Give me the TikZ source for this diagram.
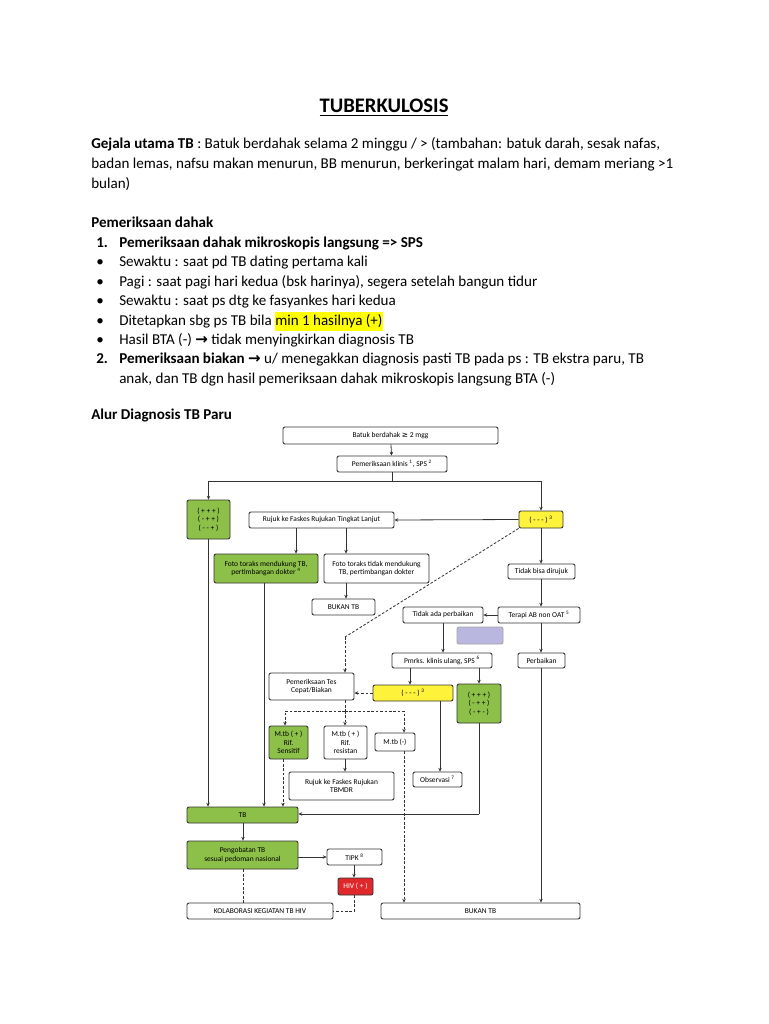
\documentclass[tikz,border=0pt]{standalone}
\usepackage{fontspec}
\setmainfont{Carlito}
\newfontfamily\symf{DejaVu Sans}
\usetikzlibrary{arrows.meta,calc}
\definecolor{tbgreen}{HTML}{8DC049}
\definecolor{tbyellow}{HTML}{FFF23A}
\definecolor{tbred}{HTML}{E0282C}
\definecolor{tbpurple}{HTML}{B9B6E0}
\definecolor{linec}{HTML}{333333}
\definecolor{hl}{HTML}{FFFF00}
\newcommand\fc{\fontsize{5.6}{6.4}\selectfont}
\newcommand\ra{{\symf\bfseries →}}
% box from corner (x1,y1) to (x2,y2) in pixel units
\newcommand\nb[7]{\node[#1, minimum width={(#5-#3)*0.75pt}, minimum height={(#6-#4)*0.75pt}] (#2) at ({(#3+#5)/2},{(#4+#6)/2}) {#7};}
\begin{document}
\begin{tikzpicture}[x=0.75pt,y=-0.75pt,
  txt/.style={anchor=base west, inner sep=0pt, font=\fontsize{11.3}{14}\selectfont},
  box/.style={draw=linec, rounded corners=1.5pt, line width=0.65pt, fill=white, inner sep=0pt, font=\fc, align=center, text=black},
  grn/.style={box, fill=tbgreen},
  yel/.style={box, fill=tbyellow},
  arr/.style={draw=linec, line width=0.6pt, -{Stealth[length=2.8pt,width=2.6pt]}},
  ln/.style={draw=linec, line width=0.6pt},
  dsh/.style={dash pattern=on 2pt off 1.3pt}]
\useasboundingbox[fill=white] (0,0) rectangle (768,1024);

% ---------- page text ----------
\node[anchor=base, inner sep=0pt, font=\fontsize{15.5}{18}\selectfont\bfseries] (title) at (384,113) {\underline{TUBERKULOSIS}};
\node[txt] (l1) at (91,148) {\textbf{Gejala utama TB} : Batuk berdahak selama 2 minggu / > (tambahan: batuk darah, sesak nafas,};
\node[txt] (l2) at (91,168) {badan lemas, nafsu makan menurun, BB menurun, berkeringat malam hari, demam meriang >1};
\node[txt] (l3) at (91,188) {bulan)};
\node[txt] (l4) at (91,227) {\textbf{Pemeriksaan dahak}};
\node[txt] (n1a) at (96,247) {\textbf{1.}};
\node[txt] (l5) at (119,247) {\textbf{Pemeriksaan dahak mikroskopis langsung => SPS}};
\node[txt] (b1) at (96,266) {•};
\node[txt] (l6) at (119,266) {Sewaktu : saat pd TB dating pertama kali};
\node[txt] (b2) at (96,286) {•};
\node[txt] (l7) at (119,286) {Pagi : saat pagi hari kedua (bsk harinya), segera setelah bangun tidur};
\node[txt] (b3) at (96,305) {•};
\node[txt] (l8) at (119,305) {Sewaktu : saat ps dtg ke fasyankes hari kedua};
\node[txt] (b4) at (96,325) {•};
\node[txt] (l9) at (119,325) {Ditetapkan sbg ps TB bila {\setlength\fboxsep{0pt}\colorbox{hl}{\strut min 1 hasilnya (+)}}};
\node[txt] (b5) at (96,344) {•};
\node[txt] (l10) at (119,344) {Hasil BTA (-) \ra{} tidak menyingkirkan diagnosis TB};
\node[txt] (n2a) at (96,363) {\textbf{2.}};
\node[txt] (l11) at (119,363) {\textbf{Pemeriksaan biakan} \ra{} u/ menegakkan diagnosis pasti TB pada ps : TB ekstra paru, TB};
\node[txt] (l12) at (119,383) {anak, dan TB dgn hasil pemeriksaan dahak mikroskopis langsung BTA (-)};
\node[txt] (l13) at (91,419) {\textbf{Alur Diagnosis TB Paru}};

% ---------- flowchart nodes ----------
\nb{box}{batuk}{283}{427}{498}{444}{Batuk berdahak {\symf ≥} 2 mgg}
\nb{box}{klinis}{337}{456}{447}{472}{Pemeriksaan klinis \textsuperscript{1}, SPS \textsuperscript{2}}
\nb{grn}{g1}{187}{500}{230}{539}{( + + + )\\( - + + )\\( - - + )}
\nb{box}{rujuk}{249}{512}{394}{528}{Rujuk ke Faskes Rujukan Tingkat Lanjut}
\nb{yel}{y1}{519}{511}{563}{528}{( - - - ) \textsuperscript{3}}
\nb{grn}{foto1}{214}{554}{318}{583}{Foto toraks mendukung TB,\\pertimbangan dokter \textsuperscript{4}}
\nb{box}{foto2}{324}{554}{429}{583}{Foto toraks tidak mendukung\\TB, pertimbangan dokter}
\nb{box}{bukan1}{312}{599}{375}{615}{BUKAN TB}
\nb{box}{tbd}{508}{564}{575}{579}{Tidak bisa dirujuk}
\nb{box}{terapi}{498}{607}{580}{623}{Terapi AB non OAT \textsuperscript{5}}
\nb{box}{tap}{403}{607}{483}{623}{Tidak ada perbaikan}
\nb{box, draw=black!35, fill=tbpurple}{purple}{457}{627}{503}{644}{}
\nb{box}{pmrks}{392}{653}{492}{668}{Pmrks. klinis ulang, SPS \textsuperscript{6}}
\nb{box}{perb}{518}{653}{565}{668}{Perbaikan}
\nb{box}{tes}{269}{673}{354}{700}{Pemeriksaan Tes\\Cepat/Biakan}
\nb{yel}{y2}{373}{685}{453}{701}{( - - - ) \textsuperscript{3}}
\nb{grn}{g3}{457}{684}{501}{723}{( + + + )\\( - + + )\\( - + - )}
\nb{grn}{sens}{269}{726}{308}{759}{M.tb ( + )\\Rif.\\Sensitif}
\nb{box}{res}{324}{726}{367}{759}{M.tb ( + )\\Rif.\\resistan}
\nb{box}{neg}{375}{733}{415}{751}{M.tb (-)}
\nb{box}{tbmdr}{289}{772}{394}{800}{Rujuk ke Faskes Rujukan\\TBMDR}
\nb{box}{obs}{413}{772}{462}{787}{Observasi \textsuperscript{7}}
\nb{grn}{tb}{187}{807}{298}{823}{TB}
\nb{grn}{peng}{187}{841}{298}{869}{Pengobatan TB\\sesuai pedoman nasional}
\nb{box}{tipk}{327}{849}{382}{865}{TIPK \textsuperscript{8}}
\nb{box, fill=tbred, text=white}{hiv}{338}{878}{373}{895}{HIV ( + )}
\nb{box}{kol}{187}{903}{333}{919}{KOLABORASI KEGIATAN TB HIV}
\nb{box}{bukan2}{381}{903}{580}{919}{BUKAN TB}

% helper x positions
\path (296,0) coordinate (xa) (346,0) coordinate (xb) (541,0) coordinate (xc)
      (345,0) coordinate (xd) (410,0) coordinate (xe) (479,0) coordinate (xf)
      (440,0) coordinate (xg) (285,0) coordinate (xh) (404,0) coordinate (xi)
      (264,0) coordinate (xj) (283,0) coordinate (xk) (208,0) coordinate (xl)
      (243,0) coordinate (xm) (354,0) coordinate (xn) (443,0) coordinate (xo);
\coordinate (dA) at (345,637);
\coordinate (dB) at (345,711);
\coordinate (gC) at (479,814);
\coordinate (hD) at (354,911);

% ---------- connectors ----------
\draw[arr] (batuk) -- (klinis);
\draw[arr] (klinis.south) -- ++(0,9) -| (g1.north);
\draw[arr] (klinis.south) -- ++(0,9) -| (y1.north);
\draw[arr] (y1.west) -- (rujuk.east);
\draw[arr] (rujuk.south -| xa) -- (foto1.north -| xa);
\draw[arr] (rujuk.south -| xb) -- (foto2.north -| xb);
\draw[arr] (foto2.south -| xb) -- (bukan1.north -| xb);
\draw[arr] (y1.south -| xc) -- (tbd.north -| xc);
\draw[arr] (tbd.south -| xc) -- (terapi.north -| xc);
\draw[arr] (terapi.west) -- (tap.east);
\draw[arr] (tap.south -| xo) -- (pmrks.north -| xo);
\draw[arr] (terapi.south -| xc) -- (perb.north -| xc);
\draw[arr] (perb.south -| xc) -- (bukan2.north -| xc);
\draw[ln, dsh] (y1.south west) -- (dA);
\draw[arr, dsh] (dA) -- (tes.north -| xd);
\draw[arr] (pmrks.south -| xe) -- (y2.north -| xe);
\draw[arr] (pmrks.south -| xf) -- (g3.north -| xf);
\draw[arr, dsh] (y2.west) -- (tes.east |- y2.west);
\draw[arr] (y2.south -| xg) -- (obs.north -| xg);
\draw[ln, dsh] (tes.south -| xd) -- (dB);
\draw[arr, dsh] (dB) -| (sens.north -| xh);
\draw[arr, dsh] (dB) -- (res.north -| xd);
\draw[arr, dsh] (dB) -| (neg.north -| xi);
\draw[arr] (res.south -| xd) -- (tbmdr.north -| xd);
\draw[arr, dsh] (sens.south -| xk) -- (tb.north -| xk);
\draw[arr, dsh] (neg.south -| xi) -- (bukan2.north -| xi);
\draw[arr] (g1.south -| xl) -- (tb.north -| xl);
\draw[arr] (foto1.south -| xj) -- (tb.north -| xj);
\draw[ln] (g3.south -| xf) -- (gC);
\draw[arr] (gC) -- (tb.east |- gC);
\draw[arr] (tb.south -| xm) -- (peng.north -| xm);
\draw[arr] (peng.east |- tipk.west) -- (tipk.west);
\draw[arr] (tipk.south -| xn) -- (hiv.north -| xn);
\draw[ln, dsh] (peng.south -| xm) -- (kol.north -| xm);
\draw[ln, dsh] (hiv.south -| xn) -- (hD) -- (kol.east |- hD);
\end{tikzpicture}
\end{document}
